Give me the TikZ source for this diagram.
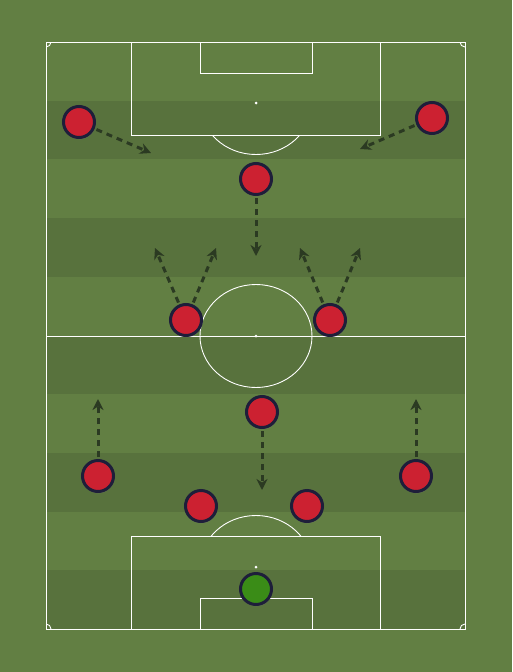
\documentclass[tikz,border=0pt]{standalone}
\usetikzlibrary{arrows.meta,shadows}
\definecolor{grassL}{HTML}{627F43}
\definecolor{grassD}{HTML}{58723D}
\definecolor{pred}{HTML}{CC2131}
\definecolor{pgk}{HTML}{3A8C17}
\definecolor{pout}{HTML}{1E1E3A}
\definecolor{arr}{HTML}{2B3A22}
\begin{document}
\begin{tikzpicture}[x=1pt,y=-1pt,
  pline/.style={white, line width=0.9pt},
  player/.style={circle, draw=pout, fill=pred, line width=3pt, minimum size=31pt, inner sep=0pt,
    drop shadow={opacity=0.35, shadow xshift=0.5pt, shadow yshift=-1.8pt}},
  keeper/.style={player, fill=pgk},
  move/.style={draw=arr, line width=3pt, dash pattern=on 6pt off 5pt,
    -{Stealth[length=11pt,width=11pt,inset=3.5pt]}, shorten <=2pt}]
% background
\fill[grassL] (0,0) rectangle (512,672);
\useasboundingbox (0,0) rectangle (512,672);
\foreach \i in {1,3,5,7,9}{
  \fill[grassD] (46,{42+\i*58.7}) rectangle (465,{42+(\i+1)*58.7});
}
% pitch
\draw[pline] (46,42) rectangle (465,629);
\draw[pline] (46,336) -- (465,336);
\draw[pline] (256,336) ellipse [x radius=56, y radius=51.5];
\fill[white] (256,336) circle (1.5);
\draw[pline] (131,42) rectangle (380,135);
\draw[pline] (200,42) rectangle (312,73);
\fill[white] (256,103) circle (1.5);
\draw[pline] (131,629) rectangle (380,536);
\draw[pline] (200,629) rectangle (312,598);
\fill[white] (256,567) circle (1.5);
\begin{scope}
  \clip (46,135) rectangle (465,200);
  \draw[pline] (256,103) ellipse [x radius=56, y radius=51.5];
\end{scope}
\begin{scope}
  \clip (46,470) rectangle (465,536);
  \draw[pline] (256,567) ellipse [x radius=56, y radius=51.5];
\end{scope}
\begin{scope}
  \clip (46,42) rectangle (465,629);
  \draw[pline] (46,42) circle (5);
  \draw[pline] (465,42) circle (5);
  \draw[pline] (46,629) circle (5);
  \draw[pline] (465,629) circle (5);
\end{scope}
% players
\node[player] (p1) at (79,122) {};
\node[player] (p2) at (432,118) {};
\node[player] (p3) at (256,179) {};
\node[player] (p4) at (186,320) {};
\node[player] (p5) at (330,320) {};
\node[player] (p6) at (262,412) {};
\node[player] (p7) at (98,476) {};
\node[player] (p8) at (416,476) {};
\node[player] (p9) at (201,506) {};
\node[player] (p10) at (307,506) {};
\node[keeper] (gk) at (256,589) {};
% arrow targets
\coordinate (t1) at (151,153);
\coordinate (t2) at (360,149);
\coordinate (t3) at (256,256);
\coordinate (t4a) at (155,248);
\coordinate (t4b) at (216,248);
\coordinate (t5a) at (300,248);
\coordinate (t5b) at (360,248);
\coordinate (t6) at (262,490);
\coordinate (t7) at (98,399);
\coordinate (t8) at (416,399);
% movement arrows
\draw[move] (p1) -- (t1);
\draw[move] (p2) -- (t2);
\draw[move] (p3) -- (t3);
\draw[move] (p4) -- (t4a);
\draw[move] (p4) -- (t4b);
\draw[move] (p5) -- (t5a);
\draw[move] (p5) -- (t5b);
\draw[move] (p6) -- (t6);
\draw[move] (p7) -- (t7);
\draw[move] (p8) -- (t8);
\end{tikzpicture}
\end{document}
